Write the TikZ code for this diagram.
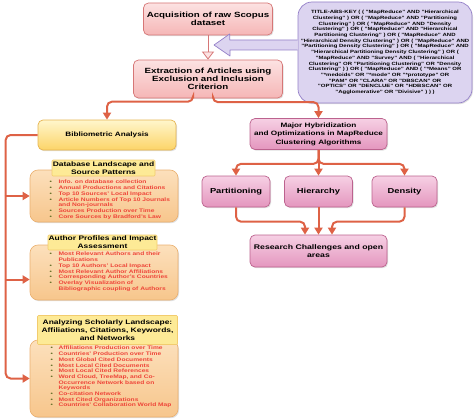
\documentclass[tikz,border=0pt]{standalone}
\usepackage{fontspec}
\setmainfont{Liberation Sans}[FakeStretch=1.3]
\usetikzlibrary{arrows.meta,shadows}

\definecolor{flowc}{RGB}{222,98,70}
\definecolor{pinkT}{RGB}{252,226,226}
\definecolor{pinkB}{RGB}{245,182,182}
\definecolor{pinkE}{RGB}{214,118,118}
\definecolor{magT}{RGB}{246,208,228}
\definecolor{magB}{RGB}{228,150,190}
\definecolor{magE}{RGB}{188,98,142}
\definecolor{yelT}{RGB}{255,246,204}
\definecolor{yelB}{RGB}{252,212,104}
\definecolor{yelE}{RGB}{230,180,80}
\definecolor{hdrF}{RGB}{253,234,150}
\definecolor{hdrE}{RGB}{242,204,110}
\definecolor{orT}{RGB}{252,224,188}
\definecolor{orB}{RGB}{247,198,140}
\definecolor{orE}{RGB}{234,176,112}
\definecolor{lavF}{RGB}{220,212,240}
\definecolor{lavE}{RGB}{148,128,200}
\definecolor{itemc}{RGB}{238,68,56}
\definecolor{bulc}{RGB}{100,112,40}

\newcommand{\bul}{{\color{bulc}\textbullet}}

\begin{document}
\begin{tikzpicture}[x=1pt,y=-1pt,
  shade/.style={drop shadow={opacity=.25,shadow xshift=1pt,shadow yshift=-1.2pt}},
  flow/.style={draw=flowc,line width=2pt,rounded corners=5pt,-{Triangle[width=8pt,length=7pt]}},
  pinkbox/.style={shade,draw=pinkE,line width=.7pt,rounded corners=5pt,top color=pinkT,bottom color=pinkB,
    inner sep=0pt,align=center,font=\fontsize{7.5}{8.3}\selectfont\bfseries},
  magbox/.style={shade,draw=magE,line width=.7pt,rounded corners=5pt,top color=magT,bottom color=magB,
    inner sep=0pt,align=center,font=\fontsize{6.3}{8.5}\selectfont\bfseries},
  yelbox/.style={shade,draw=yelE,line width=.7pt,rounded corners=5pt,top color=yelT,bottom color=yelB,
    inner sep=0pt,align=center,font=\fontsize{6.3}{8}\selectfont\bfseries},
  litbox/.style={shade,draw=orE,line width=.6pt,rounded corners=8pt,top color=orT,bottom color=orB,
    inner sep=0pt,minimum width=148pt},
  hdr/.style={draw=hdrE,fill=hdrF,line width=.6pt,rounded corners=1pt,inner sep=0pt,align=center,
    font=\fontsize{6.5}{8}\selectfont\bfseries},
  listtxt/.style={inner sep=0pt,text=itemc,font=\fontsize{5.1}{5.7}\selectfont\bfseries},
  lavarrow/.style={draw=lavE,fill=lavF,line width=.7pt,line join=round},
  pinkline/.style={draw=pinkE,line width=.8pt,-{Triangle[width=12pt,length=8pt,fill=pinkT]}}]
\useasboundingbox (0,0) rectangle (474,420);

% top part
\node[pinkbox,minimum width=129pt,minimum height=32pt] (acq) at (208,19) {Acquisition of raw Scopus\\dataset};
\node[pinkbox,minimum width=149pt,minimum height=38pt] (extr) at (208,79) {Extraction of Articles using\\Exclusion and Inclusion\\Criterion};
\draw[pinkline] (acq) -- (extr);

\coordinate (qtip) at (214,45);
\node[shade,draw=lavE,fill=lavF,line width=.7pt,rounded corners=14pt,minimum width=174pt,minimum height=101pt,
  inner sep=0pt,align=center,font=\fontsize{4.6}{5.7}\selectfont\bfseries] (query) at (385,52.5)
  {TITLE-ABS-KEY ( ( "MapReduce" AND "Hierarchical\\
   Clustering" ) OR ( "MapReduce" AND "Partitioning\\
   Clustering" ) OR ( "MapReduce" AND "Density\\
   Clustering" ) OR ( "MapReduce" AND "Hierarchical\\
   Partitioning Clustering" ) OR ( "MapReduce" AND\\
   "Hierarchical Density Clustering" ) OR ( "MapReduce" AND\\
   "Partitioning Density Clustering" ) OR ( "MapReduce" AND\\
   "Hierarchical Partitioning Density Clustering" ) OR (\\
   "MapReduce" AND "Survey" AND ( "Hierarchical\\
   Clustering" OR "Partitioning Clustering" OR "Density\\
   Clustering" ) ) OR ( "MapReduce" AND ( "*Means" OR\\
   "*medoids" OR "*mode" OR "*prototype" OR\\
   "PAM" OR "CLARA" OR "DBSCAN" OR\\
   "OPTICS" OR "DENCLUE" OR "HDBSCAN" OR\\
   "Agglomerative" OR "Divisive" ) ) )};
\draw[lavarrow] ([yshift=12.5pt]query.west) -- ++(-68,0) -- ++(0,-6) -- (qtip) -- ++(16,11) -- ++(0,-6) -- ([yshift=2.5pt]query.west);

% right branch
\node[magbox,minimum width=137pt,minimum height=31pt] (major) at (318.5,134) {Major Hybridization\\and Optimizations in MapReduce\\Clustering Algorithms};
\node[magbox,minimum width=68pt,minimum height=31pt,font=\fontsize{7.2}{8.5}\selectfont\bfseries] (part) at (236,191.5) {Partitioning};
\node[magbox,minimum width=68pt,minimum height=31pt,font=\fontsize{7.2}{8.5}\selectfont\bfseries] (hier) at (318.5,191.5) {Hierarchy};
\node[magbox,minimum width=65pt,minimum height=31pt,font=\fontsize{7.2}{8.5}\selectfont\bfseries] (dens) at (404.5,191.5) {Density};
\node[magbox,minimum width=137pt,minimum height=32pt,font=\fontsize{6.7}{8.4}\selectfont\bfseries] (res) at (318.5,251) {Research Challenges and open\\areas};

\draw[flow] ([xshift=5pt]extr.south) |- ([yshift=16pt]major.north) -- (major.north);
\draw[flow] (major.south) -- ++(0,14) -| (part.north);
\draw[flow] (major.south) -- ++(0,14) -| (dens.north);
\draw[flow] (major.south) -- (hier.north);
\draw[flow] (part.south) |- ([xshift=-13.5pt,yshift=13pt]res.north) -- ([xshift=-13.5pt]res.north);
\draw[flow] (dens.south) |- ([xshift=13.5pt,yshift=13pt]res.north) -- ([xshift=13.5pt]res.north);
\draw[flow] (hier.south) -- (res.north);

% left branch
\node[yelbox,minimum width=138pt,minimum height=30pt] (bib) at (107,135) {Bibliometric Analysis};
\draw[flow] ([xshift=-15pt]extr.south) |- ([yshift=18pt]bib.north) -- (bib.north);

\node[litbox,minimum height=52pt] (lit1) at (104,196) {};
\node[litbox,minimum height=55pt] (lit2) at (104,272.5) {};
\node[litbox,minimum height=77pt] (lit3) at (104,378.5) {};

\node[hdr,minimum width=103pt,minimum height=16pt] (hdr1) at (103.5,168) {Database Landscape and\\Source Patterns};
\node[hdr,minimum width=109pt,minimum height=15pt] (hdr2) at (102.5,242.5) {Author Profiles and Impact\\Assessment};
\node[hdr,minimum width=140pt,minimum height=29pt] (hdr3) at (107.5,330) {Analyzing Scholarly Landscape:\\Affiliations, Citations, Keywords,\\and Networks};

\node[listtxt,anchor=north west] (items1) at (49.5,179.8) {\begin{tabular}{@{}l@{\hspace{6.5pt}}l@{}}
  \bul & Info. on database collection\\
  \bul & Annual Productions and Citations\\
  \bul & Top 10 Sources' Local Impact\\
  \bul & Article Numbers of Top 10 Journals\\
       & and Non-journals\\
  \bul & Sources Production over Time\\
  \bul & Core Sources by Bradford's Law
  \end{tabular}};
\node[listtxt,anchor=north west] (items2) at (49.5,251.8) {\begin{tabular}{@{}l@{\hspace{6.5pt}}l@{}}
  \bul & Most Relevant Authors and their\\
       & Publications\\
  \bul & Top 10 Authors' Local Impact\\
  \bul & Most Relevant Author Affiliations\\
  \bul & Corresponding Author's Countries\\
  \bul & Overlay Visualization of\\
       & Bibliographic coupling of Authors
  \end{tabular}};
\node[listtxt,anchor=north west] (items3) at (50.5,345.8) {\begin{tabular}{@{}l@{\hspace{5.5pt}}l@{}}
  \bul & Affiliations Production over Time\\
  \bul & Countries' Production over Time\\
  \bul & Most Global Cited Documents\\
  \bul & Most Local Cited Documents\\
  \bul & Most Local Cited References\\
  \bul & Word Cloud, TreeMap, and Co-\\
       & Occurrence Network based on\\
       & Keywords\\
  \bul & Co-citation Network\\
  \bul & Most Cited Organizations\\
  \bul & Countries' Collaboration World Map
  \end{tabular}};

\draw[flow] (bib.west) -- ++(-32,0) |- (lit3.west);
\draw[flow] ([xshift=-25pt]lit1.west) -- (lit1.west);
\draw[flow] ([xshift=-25pt,yshift=-7pt]lit2.west) -- ([yshift=-7pt]lit2.west);
\end{tikzpicture}
\end{document}
